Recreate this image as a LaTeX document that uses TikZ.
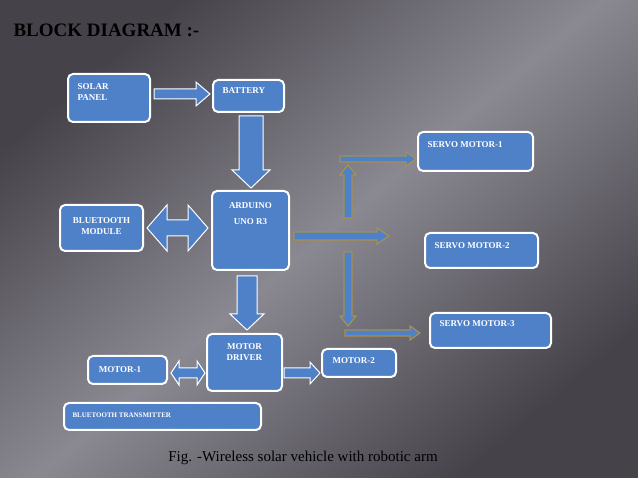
\documentclass[tikz,border=0pt]{standalone}
\usepackage{fontspec}
\setmainfont{Liberation Serif}
\definecolor{bx}{HTML}{4F81C8}
\definecolor{gold}{HTML}{A89050}
\definecolor{bgd}{HTML}{45424A}
\definecolor{bgl}{HTML}{8A8890}
\newcommand\harr[7][]{\draw[#1] (#2,{#4-#5}) -- ({#3-#7},{#4-#5}) -- ({#3-#7},{#4-#6}) -- (#3,#4) -- ({#3-#7},{#4+#6}) -- ({#3-#7},{#4+#5}) -- (#2,{#4+#5}) -- cycle;}
\newcommand\varr[7][]{\draw[#1] ({#4-#5},#2) -- ({#4-#5},{#3-#7}) -- ({#4-#6},{#3-#7}) -- (#4,#3) -- ({#4+#6},{#3-#7}) -- ({#4+#5},{#3-#7}) -- ({#4+#5},#2) -- cycle;}
\newcommand\hdbl[7][]{\draw[#1] (#2,#4) -- ({#2+#7},{#4-#6}) -- ({#2+#7},{#4-#5}) -- ({#3-#7},{#4-#5}) -- ({#3-#7},{#4-#6}) -- (#3,#4) -- ({#3-#7},{#4+#6}) -- ({#3-#7},{#4+#5}) -- ({#2+#7},{#4+#5}) -- ({#2+#7},{#4+#6}) -- cycle;}
\begin{document}
\begin{tikzpicture}[x=1pt,y=-1pt,
 box/.style={draw=white,line width=2pt,fill=bx,rounded corners=5pt},
 lbl/.style={text=white,font=\bfseries\fontsize{9}{11}\selectfont},
 big/.style={draw=white,line width=1pt,fill=bx},
 thin/.style={draw=gold,line width=1.2pt,fill=bx}]
\shade[left color=bgd,right color=bgd,middle color=bgl,shading angle=40] (0,0) rectangle (638,478);
\useasboundingbox (0,0) rectangle (638,478);
\node[anchor=west,font=\bfseries\fontsize{19}{21}\selectfont] (title) at (10,30) {BLOCK DIAGRAM :-};
\draw[box] (68,74) rectangle (150,122); \node[anchor=north west,lbl,align=left] (solar) at (74,80) {SOLAR\\PANEL};
\draw[box] (213,80) rectangle (284,112); \node[anchor=north west,lbl] (bat) at (219,84) {BATTERY};
\draw[box] (418,132) rectangle (533,171); \node[anchor=north west,lbl] (s1) at (424,138) {SERVO MOTOR-1};
\draw[box] (60,205) rectangle (143,251); \node[lbl,align=center] (bt) at (101.5,226) {BLUETOOTH\\MODULE};
\draw[box] (212,191) rectangle (289,270); \node[anchor=north,lbl,font=\bfseries\fontsize{9}{16}\selectfont,align=center] (ard) at (250.5,199) {ARDUINO\\UNO R3};
\draw[box] (425,233) rectangle (538,268); \node[anchor=north west,lbl] (s2) at (431,239) {SERVO MOTOR-2};
\draw[box] (430,313) rectangle (551,348); \node[anchor=north west,lbl] (s3) at (436,317) {SERVO MOTOR-3};
\draw[box] (207,334) rectangle (282,391); \node[anchor=north,lbl,align=center] (md) at (244.5,340) {MOTOR\\DRIVER};
\draw[box] (88,356) rectangle (167,384); \node[lbl] (m1) at (120,370) {MOTOR-1};
\draw[box] (322,349) rectangle (396,377); \node[anchor=north west,lbl] (m2) at (329,354) {MOTOR-2};
\draw[box] (64,403) rectangle (261,430); \node[anchor=west,lbl,font=\bfseries\fontsize{7}{9}\selectfont] (btt) at (69,415) {BLUETOOTH TRANSMITTER};
% block arrows
\harr[big]{154}{210}{94}{5}{12}{14}
\varr[big]{116}{188}{251}{12}{19}{18}
\varr[big]{276}{330}{247}{10}{17}{16}
\hdbl[big]{147}{208}{228}{8}{23}{20}
\hdbl[big]{171}{205}{373}{5}{12}{8}
\harr[big]{284}{320}{373}{5}{11}{10}
% servo connectors
\harr[thin]{294}{389}{236}{4}{8}{12}
\varr[thin]{218}{165}{348}{4}{8}{-10}
\harr[thin]{340}{416}{159}{3}{7}{10}
\varr[thin]{252}{326}{348}{4}{8}{10}
\harr[thin]{345}{420}{333}{3}{7}{10}
\node[font=\fontsize{15}{17}\selectfont] (cap) at (303,458) {Fig. -Wireless solar vehicle with robotic arm};
\end{tikzpicture}
\end{document}
